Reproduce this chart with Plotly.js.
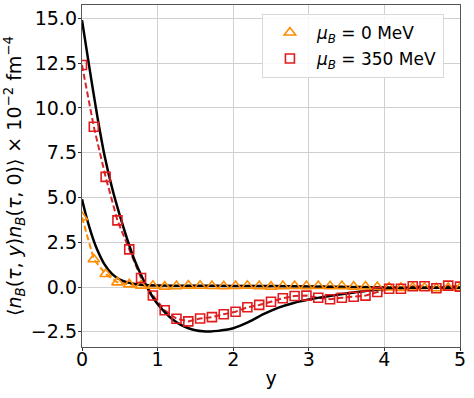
<!DOCTYPE html>
<html>
<head>
<meta charset="utf-8">
<script src="https://cdn.plot.ly/plotly-3.0.1.min.js"></script>
<style>html,body{margin:0;padding:0;background:#fff;}#chart{width:474px;height:398px;}</style>
</head>
<body>
<div id="chart"></div>
<script>
// lattice points y = k*5/32
const yPoints = Array.from({length: 33}, (_, k) => k * 5 / 32);
const mu0Values = [3.9, 1.55, 0.73, 0.26, 0.15, 0.08, 0.07, 0.02, 0.05, 0.08, 0.07, 0.06, 0.04, 0.06, 0.07, 0.05, 0.02, 0.05, 0.06, 0.05, 0.06, 0.04, 0.05, 0.02, 0.03, 0.0, -0.03, -0.05, -0.03, -0.04, -0.07, -0.04, -0.05];
const mu350Values = [12.4, 8.95, 6.15, 3.72, 2.1, 0.5, -0.47, -1.3, -1.77, -1.92, -1.76, -1.68, -1.52, -1.38, -1.13, -1.0, -0.82, -0.63, -0.5, -0.48, -0.6, -0.68, -0.6, -0.54, -0.48, -0.28, -0.1, -0.1, 0.04, 0.04, -0.07, 0.08, 0.02];

// continuum curves
const curveX350 = [0, 0.1, 0.2, 0.3, 0.4, 0.5, 0.6, 0.7, 0.8, 0.9, 1.0, 1.1, 1.2, 1.3, 1.4, 1.5, 1.6, 1.7, 1.8, 1.9, 2.0, 2.2, 2.4, 2.6, 2.8, 3.0, 3.2, 3.4, 3.6, 3.8, 4.0, 4.2, 4.5, 5.0];
const curveY350 = [14.9, 12.2, 9.6, 7.3, 5.5, 4.0, 2.65, 1.45, 0.5, -0.32, -0.95, -1.43, -1.82, -2.1, -2.29, -2.41, -2.47, -2.48, -2.45, -2.39, -2.3, -1.96, -1.52, -1.15, -0.89, -0.7, -0.55, -0.42, -0.3, -0.19, -0.11, -0.06, -0.04, -0.03];
const curveX0 = [0, 0.05, 0.1, 0.15, 0.2, 0.3, 0.4, 0.5, 0.6, 0.7, 0.8, 1.0, 1.5, 2.0, 2.5, 3.0, 3.5, 4.0, 4.5, 5.0];
const curveY0 = [4.9, 4.05, 3.3, 2.65, 2.1, 1.25, 0.72, 0.42, 0.26, 0.17, 0.12, 0.08, 0.07, 0.06, 0.05, 0.03, 0.0, -0.03, -0.04, -0.04];

const yTicks = [-2.5, 0, 2.5, 5, 7.5, 10, 12.5, 15];
const yTickText = ['\u22122.5', '0.0', '2.5', '5.0', '7.5', '10.0', '12.5', '15.0'];
const xTicks = [0, 1, 2, 3, 4, 5];

const orange = '#ff8c00';
const red = '#e31a1c';

const traces = [
  {x: yPoints, y: mu0Values, mode: 'lines', line: {color: orange, width: 2, dash: '6px,3px'}, showlegend: false, hoverinfo: 'skip'},
  {x: yPoints, y: mu350Values, mode: 'lines', line: {color: '#d62728', width: 2, dash: '6px,3px'}, showlegend: false, hoverinfo: 'skip'},
  {x: curveX350, y: curveY350, mode: 'lines', line: {color: 'black', width: 2.5, shape: 'spline', smoothing: 0.8}, showlegend: false},
  {x: curveX0, y: curveY0, mode: 'lines', line: {color: 'black', width: 2.5, shape: 'spline', smoothing: 0.8}, showlegend: false},
  {x: yPoints, y: mu0Values, mode: 'markers', name: '<i>μ</i><sub><i>B</i></sub> = 0 MeV', legendgroup: 'a',
   marker: {symbol: 'triangle-up-open', size: 10, color: orange, line: {width: 1.6, color: orange}}},
  {x: yPoints, y: mu350Values, mode: 'markers', name: '<i>μ</i><sub><i>B</i></sub> = 350 MeV', legendgroup: 'b',
   marker: {symbol: 'square-open', size: 9, color: red, line: {width: 1.6, color: red}}}
];

const layout = {
  width: 474, height: 398,
  margin: {l: 82, r: 14, t: 5, b: 51},
  paper_bgcolor: 'white', plot_bgcolor: 'white',
  font: {family: 'DejaVu Sans', color: 'black'},
  xaxis: {
    range: [0, 5], tickvals: xTicks, ticktext: xTicks.map(String),
    tickfont: {size: 19}, ticks: 'outside', ticklen: 3, tickcolor: '#333', ticklabelstandoff: -8,
    showgrid: true, gridcolor: '#d0d0d0', gridwidth: 1,
    showline: true, linecolor: '#555', linewidth: 1.2, mirror: true, zeroline: false,
    title: {text: 'y', font: {size: 19}, standoff: 2}
  },
  yaxis: {
    range: [-3.35, 15.75], tickvals: yTicks, ticktext: yTickText,
    tickfont: {size: 19}, ticks: 'outside', ticklen: 3, tickcolor: '#333', ticklabelstandoff: -3,
    showgrid: true, gridcolor: '#d0d0d0', gridwidth: 1,
    showline: true, linecolor: '#555', linewidth: 1.2, mirror: true, zeroline: false,
    title: {text: '⟨<i>n</i><sub><i>B</i></sub>(<i>τ</i>, <i>y</i>)<i>n</i><sub><i>B</i></sub>(<i>τ</i>, 0)⟩ × 10<sup>−2</sup> fm<sup>−4</sup>', font: {size: 19}, standoff: 4}
  },
  legend: {
    x: 0.476, y: 0.974, xanchor: 'left', yanchor: 'top',
    bgcolor: 'rgba(255,255,255,0.85)', bordercolor: '#d8d8d8', borderwidth: 1,
    font: {size: 17}, itemwidth: 44, tracegroupgap: 1
  },
  showlegend: true
};

Plotly.newPlot('chart', traces, layout, {staticPlot: true, displayModeBar: false});
</script>
</body>
</html>
